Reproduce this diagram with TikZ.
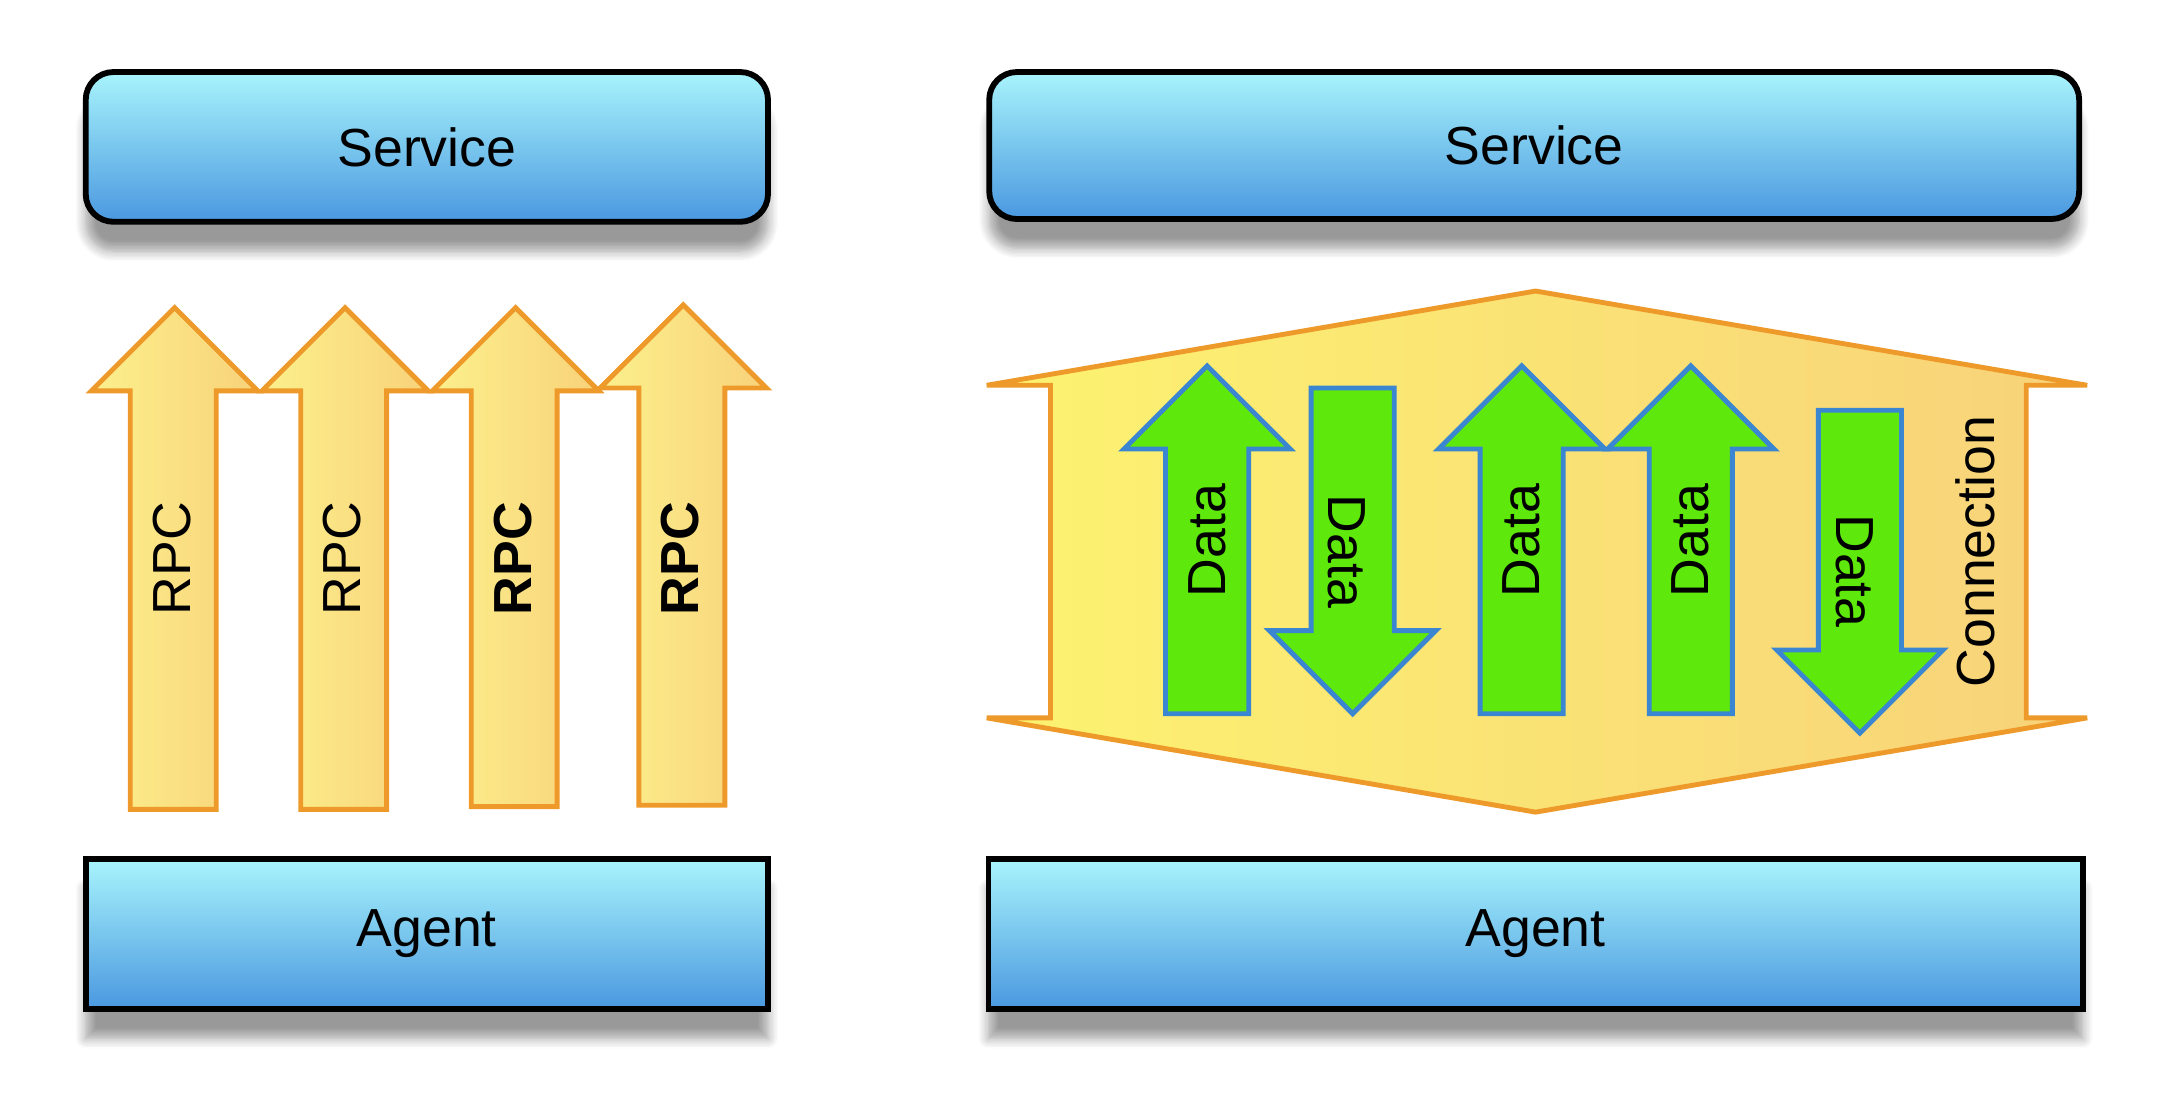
\documentclass[tikz,border=0pt]{standalone}
\usepackage{fontspec}
\setmainfont{Liberation Sans}
\usetikzlibrary{shadows.blur}
\definecolor{boxtop}{HTML}{A8F4FC}
\definecolor{boxbot}{HTML}{4A98E0}
\definecolor{rpcl}{HTML}{FCF08C}
\definecolor{rpcr}{HTML}{F8D27A}
\definecolor{rpcline}{HTML}{EE9A2A}
\definecolor{datafill}{HTML}{5EE80C}
\definecolor{dataline}{HTML}{3A86D0}
\tikzset{
  box/.style={draw=black, line width=1.2pt, top color=boxtop, bottom color=boxbot,
    blur shadow={shadow xshift=0pt, shadow yshift=-6pt, shadow blur steps=8},
    font=\fontsize{11}{13}\selectfont},
  rpc/.style={draw=rpcline, line width=1pt, left color=rpcl, right color=rpcr},
  data/.style={draw=dataline, line width=1pt, fill=datafill},
  lbl/.style={font=\fontsize{11}{13}\selectfont}
}
\begin{document}
\begin{tikzpicture}[x=0.01cm, y=-0.01cm]
  \useasboundingbox (0,0) rectangle (1560,800);

  % services and agents
  \node [box, rounded corners=0.2cm, minimum width=4.92cm, minimum height=1.08cm] (service1) at (308,106) {Service};
  \node [box, rounded corners=0.2cm, minimum width=7.86cm, minimum height=1.06cm] (service2) at (1107,105) {Service};
  \node [box, minimum width=4.92cm, minimum height=1.08cm] (agent1) at (308,674) {Agent};
  \node [box, minimum width=7.89cm, minimum height=1.08cm] (agent2) at (1108,674) {Agent};

  % rpc arrows
  \foreach \x/\t/\b [count=\i] in {126/222/584, 249/222/584, 372/222/582, 493/220/581}
    \draw [rpc] (\x,\t) -- (\x+60,\t+60) -- (\x+30,\t+60) -- (\x+30,\b)
      -- (\x-32,\b) -- (\x-32,\t+60) -- (\x-60,\t+60) -- cycle;
  \node [lbl, rotate=90] (rpc1) at (124,403) {RPC};
  \node [lbl, rotate=90] (rpc2) at (247,403) {RPC};
  \node [lbl, rotate=90] (rpc3) at (370,403) {\textbf{RPC}};
  \node [lbl, rotate=90] (rpc4) at (491,403) {\textbf{RPC}};

  % connection
  \draw [rpc, left color=rpcl!80!yellow] (1108,210) -- (1506,278) -- (1462,278) -- (1462,518)
    -- (1506,518) -- (1108,586) -- (712,518) -- (758,518) -- (758,278) -- (712,278) -- cycle;
  \node [lbl, rotate=90] (conn) at (1425,398) {Connection};

  % data arrows up
  \foreach \x in {871, 1098, 1220}
    \draw [data] (\x,264) -- (\x+60,324) -- (\x+30,324) -- (\x+30,515)
      -- (\x-30,515) -- (\x-30,324) -- (\x-60,324) -- cycle;
  % data arrows down
  \foreach \x/\t/\h in {976/280/455, 1342/296/469}
    \draw [data] (\x-30,\t) -- (\x+30,\t) -- (\x+30,\h) -- (\x+60,\h)
      -- (\x,\h+60) -- (\x-60,\h) -- (\x-30,\h) -- cycle;
  \node [lbl, rotate=90] (data1) at (871,390) {Data};
  \node [lbl, rotate=-90] (data2) at (972,398) {Data};
  \node [lbl, rotate=90] (data3) at (1098,390) {Data};
  \node [lbl, rotate=90] (data4) at (1220,390) {Data};
  \node [lbl, rotate=-90] (data5) at (1338,412) {Data};
\end{tikzpicture}
\end{document}
